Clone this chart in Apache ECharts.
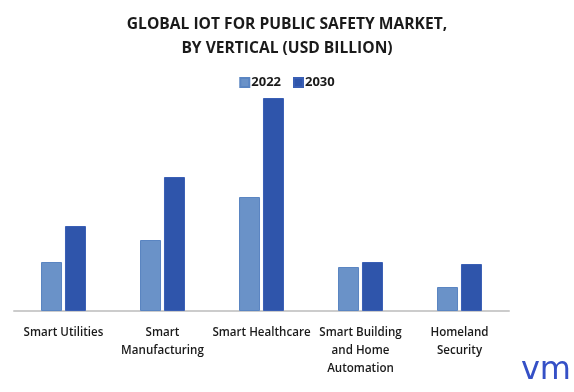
<!DOCTYPE html>
<html>
<head>
<meta charset="utf-8">
<script src="https://cdn.jsdelivr.net/npm/echarts@6/dist/echarts.min.js"></script>
<style>html,body{margin:0;padding:0;background:#fff}#c{width:574px;height:392px}</style>
</head>
<body>
<div id="c"></div>
<script>
var categories = ['Smart Utilities', 'Smart\nManufacturing', 'Smart Healthcare', 'Smart Building\nand Home\nAutomation', 'Homeland\nSecurity'];
var seriesNames = ['2022', '2030'];
var values2022 = [4.9, 7.1, 11.4, 4.4, 2.4];
var values2030 = [8.5, 13.4, 21.3, 4.9, 4.7];
var titleText = 'GLOBAL IOT FOR PUBLIC SAFETY MARKET,\nBY VERTICAL (USD BILLION)';

var chart = echarts.init(document.getElementById('c'), null, {renderer: 'canvas'});
chart.setOption({
  animation: false,
  title: {
    text: titleText,
    left: 'center',
    top: 8,
    textStyle: {fontFamily: 'Open Sans', fontWeight: 'bold', fontSize: 15.6, lineHeight: 24, color: '#1a1a1a'}
  },
  legend: {
    data: seriesNames,
    top: 71,
    left: 'center',
    itemWidth: 9,
    itemHeight: 9,
    itemGap: 12,
    icon: 'rect',
    textStyle: {fontFamily: 'Open Sans', fontWeight: 'bold', fontSize: 13, color: '#1a1a1a', padding: [0, 0, 0, -3]}
  },
  grid: {left: 14, right: 65, top: 91, bottom: 81, containLabel: false},
  xAxis: {
    type: 'category',
    data: categories,
    axisLine: {lineStyle: {color: '#cccccc', width: 2}},
    axisTick: {show: false},
    axisLabel: {interval: 0, fontFamily: 'Open Sans', fontWeight: 600, fontSize: 11.6, color: '#1a1a1a', lineHeight: 18, margin: 13}
  },
  yAxis: {type: 'value', min: 0, max: 22, show: false, splitLine: {show: false}},
  series: [
    {name: seriesNames[0], type: 'bar', data: values2022, barWidth: 21, barGap: '14%',
     itemStyle: {color: '#6a92c8', borderColor: '#5a85c2', borderWidth: 1}},
    {name: seriesNames[1], type: 'bar', data: values2030, barWidth: 21,
     itemStyle: {color: '#2f55ab', borderColor: '#3a5fb5', borderWidth: 1}}
  ],
  graphic: [{
    type: 'text', right: 3, bottom: 5,
    style: {text: 'vm', fontFamily: 'DejaVu Sans', fontWeight: 'normal', fontSize: 32, fill: '#3550c6'}
  }]
});
</script>
</body>
</html>
